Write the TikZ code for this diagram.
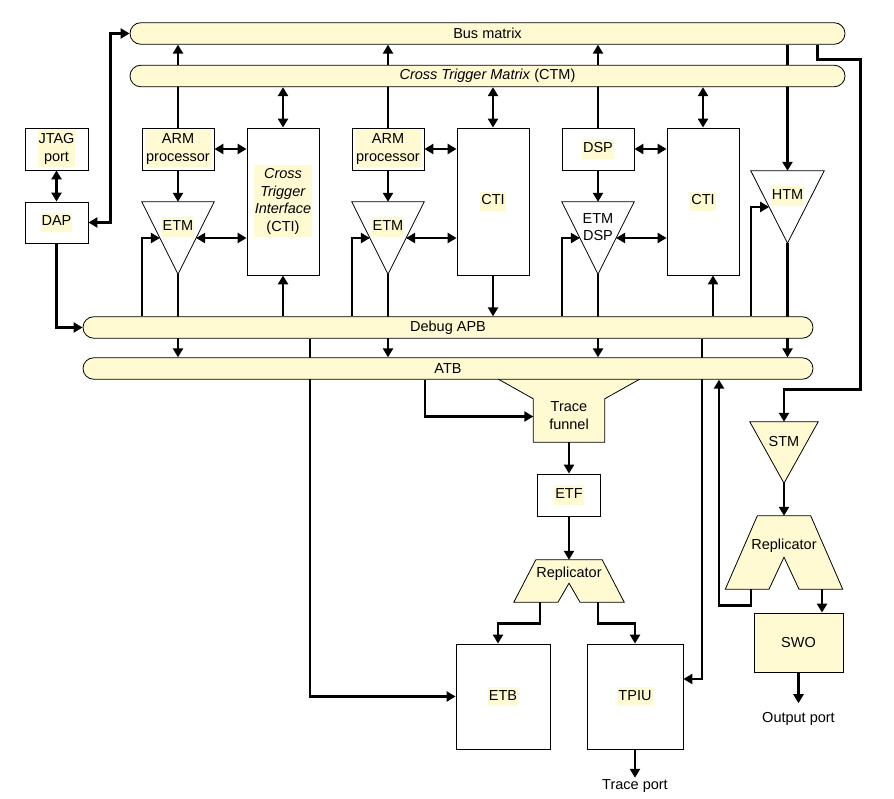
\documentclass[tikz,border=0pt]{standalone}
\usepackage{fontspec}
\setmainfont{Liberation Sans}
\usepackage{tikz}
\usetikzlibrary{positioning,arrows.meta,shapes.misc,calc,backgrounds}
\definecolor{colorbus}{RGB}{255,250,210}
\newcommand{\hl}[1]{{\setlength{\fboxsep}{1pt}\colorbox{colorbus}{\begin{tabular}{@{}c@{}}#1\end{tabular}}}}

\begin{document}
\begin{tikzpicture}[
    x=1pt, y=-1pt,
    font={\fontsize{14.5}{17.5}\selectfont},
    >={Triangle[length=9pt,width=10pt]},
    bus/.style={rounded rectangle,draw,line width=0.8pt,fill=colorbus,minimum width=#1,minimum height=21.5pt,inner sep=0pt},
    block/.style={rectangle,draw,line width=0.8pt,fill=white,inner sep=0pt},
    proc/.style={block,minimum width=72pt,minimum height=42pt},
    cti/.style={block,minimum width=72pt,minimum height=147pt},
    tri/.style={inner sep=0pt,minimum width=72pt,minimum height=72pt,label={[yshift=11pt,align=center]center:#1}},
    repl/.style={inner sep=0pt,label={[yshift=7pt]center:Replicator}},
    link/.style={line width=2.6pt},
    shape/.style={line width=0.8pt,fill=#1},
]
    \useasboundingbox (0,0) rectangle (894,799);

    % Buses
    \node[bus=715pt] (bus) at (487.5,33.5) {Bus matrix};
    \node[bus=715pt] (ctm) at (487.5,76) {\textit{Cross Trigger Matrix} (CTM)};
    \node[bus=730pt] (apb) at (448,327.5) {Debug APB};
    \node[bus=730pt] (atb) at (448,368.5) {ATB};

    % Debug access
    \node[block,minimum width=63pt,minimum height=42pt] (jtag) at (56.5,149) {\hl{JTAG\\port}};
    \node[block,minimum width=63pt,minimum height=41pt] (dap) at (56.5,222.5) {\hl{DAP}};

    % Cores, trace macrocells and CTIs
    \node[proc] (arm1) at (178,149) {\hl{ARM\\processor}};
    \node[cti] (cti1) at (283,201.5) {\hl{\textit{Cross}\\\textit{Trigger}\\\textit{Interface}\\(CTI)}};
    \node[proc] (arm2) at (388,149) {\hl{ARM\\processor}};
    \node[cti] (cti2) at (493,201.5) {\hl{CTI}};
    \node[proc] (dsp) at (598,149) {\hl{DSP}};
    \node[cti] (cti3) at (703,201.5) {\hl{CTI}};

    \node[tri=\hl{ETM}] (etm1) at (178,238) {};
    \node[tri=\hl{ETM}] (etm2) at (388,238) {};
    \node[tri={ETM\\DSP}] (etm3) at (598,238) {};
    \node[tri=\hl{HTM},minimum width=73pt] (htm) at (787.5,207) {};

    % Trace sinks
    \node[inner sep=0pt,minimum width=71pt,minimum height=43pt,
          label={[yshift=5pt,align=center]center:Trace\\funnel}] (funnel) at (569,420.5) {};
    \node[block,minimum width=63pt,minimum height=42pt] (etf) at (569,495) {\hl{ETF}};
    \node[repl,minimum width=110pt,minimum height=42pt] (rep1) at (569,581) {};
    \node[block,minimum width=94pt,minimum height=105pt] (etb) at (503,696.5) {\hl{ETB}};
    \node[block,minimum width=96pt,minimum height=105pt] (tpiu) at (635,696.5) {\hl{TPIU}};
    \node[inner sep=1.5pt] (tport) at (635,786) {Trace port};

    % System trace
    \node[tri=STM,minimum width=68pt,minimum height=61pt] (stm) at (784,452.5) {};
    \node[repl,minimum width=117pt,minimum height=73pt] (rep2) at (784,552.5) {};
    \node[block,fill=colorbus,minimum width=89pt,minimum height=59pt] (swo) at (798.5,642.5) {SWO};
    \node[inner xsep=1.5pt,inner ysep=9pt] (oport) at (798.5,719) {Output port};

    \begin{scope}[on background layer]
    % Shapes
    \foreach \t in {etm1,etm2,etm3,htm}
        \draw[shape=white] (\t.north west) -- (\t.north east) -- (\t.south) -- cycle;
    \draw[shape=colorbus] (stm.north west) -- (stm.north east) -- (stm.south) -- cycle;
    \draw[shape=colorbus] (498,379) -- (funnel.north west) -- (funnel.south west)
        -- (funnel.south east) -- (funnel.north east) -- (640,379);
    \foreach \r/\a/\n/\h in {rep1/22/11/19,rep2/32/15/32}
        \draw[shape=colorbus] ([xshift=\a pt]\r.north west) -- ([xshift=-\a pt]\r.north east)
            -- (\r.south east) -- ([xshift=\n pt]\r.south) -- ([yshift=\h pt]\r.south)
            -- ([xshift=-\n pt]\r.south) -- (\r.south west) -- cycle;

    % Debug access
    \draw[link,<->] (jtag.south) -- (dap.north);
    \draw[link,<->] (dap.east) -- ++(22,0) |- (bus.west);
    \draw[link,->] (dap.south) |- (apb.west);

    % Cores
    \foreach \p in {arm1,arm2,dsp}
        \draw[link,->] (\p.north) -- (\p.north |- bus.south);
    \foreach \c in {cti1,cti2,cti3}
        \draw[link,<->] (\c.north) -- (\c.north |- ctm.south);
    \foreach \p/\t/\c in {arm1/etm1/cti1,arm2/etm2/cti2,dsp/etm3/cti3}{
        \draw[link,<->] (\p.east) -- (\p.east -| \c.west);
        \draw[link,->] (\p.south) -- (\t.north);
        \draw[link,<->] ($(\t.center)!.5!(\t.east)$) -- (\t.center -| \c.west);
        \draw[link,->] (\t.west |- apb.north) |- ($(\t.west)!.5!(\t.center)$);
        \draw[link,->] (\t.south) -- (\t.south |- atb.north);
    }
    \draw[link,->] (cti1.south |- apb.north) -- (cti1.south);
    \draw[link,->] (cti2.south) -- (cti2.south |- apb.north);
    \draw[link,->] ([xshift=10pt]cti3.south |- apb.north) -- ([xshift=10pt]cti3.south);

    % HTM
    \draw[link,->] (htm.north |- bus.south) -- (htm.north);
    \draw[link,->] (htm.west |- apb.north) |- ($(htm.west)!.5!(htm.center)$);
    \draw[link,->] (htm.south) -- (htm.south |- atb.north);

    % Trace sinks
    \draw[link,->] ([xshift=-138pt]apb.south) |- (etb.west);
    \draw[link,->] ([xshift=254pt]apb.south) |- ([yshift=17.5pt]tpiu.east);
    \draw[link,->] ([xshift=-23pt]atb.south) |- ([yshift=4pt]funnel.west);
    \draw[link,->] (funnel.south) -- (etf.north);
    \draw[link,->] (etf.south) -- (rep1.north);
    \draw[link,->] ([xshift=-29pt]rep1.south) -- ++(0,21) -| ([xshift=-5pt]etb.north);
    \draw[link,->] ([xshift=29pt]rep1.south) -- ++(0,21) -| (tpiu.north);
    \draw[link,->] (tpiu.south) -- (tport.north);

    % System trace
    \draw[link,->] ([xshift=330pt]bus.south) -- ++(0,15) -| ++(43,330) -| (stm.north);
    \draw[link,->] (stm.south) -- (rep2.north);
    \draw[link,->] ([xshift=38pt]rep2.south) -- ([xshift=38pt]rep2.south |- swo.north);
    \draw[link,->] ([xshift=-33pt]rep2.south) -- ++(0,16) -| ([xshift=271pt]atb.south);
    \draw[link,->] (swo.south) -- (oport.north);
    \end{scope}

\end{tikzpicture}
\end{document}
